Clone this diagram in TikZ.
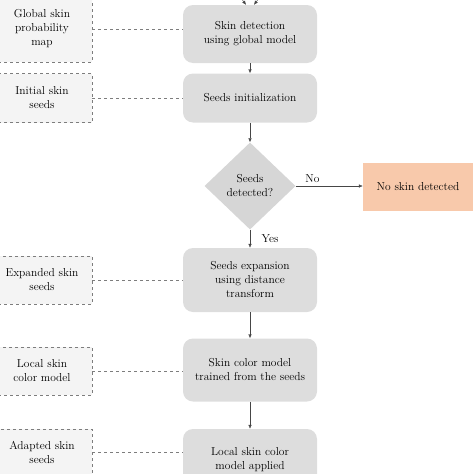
\documentclass[tikz,border=0pt]{standalone}
\usepackage{tikz}
\usetikzlibrary{shapes.geometric,arrows.meta}

\definecolor{boxgray}{RGB}{221,221,221}
\definecolor{diagray}{RGB}{214,214,214}
\definecolor{sidegray}{RGB}{244,244,244}
\definecolor{nofill}{RGB}{248,201,171}
\definecolor{linegray}{RGB}{70,70,70}
\definecolor{dashgray}{RGB}{125,125,125}

\tikzset{
  stepbox/.style={rectangle, rounded corners=10pt, fill=boxgray, align=center,
    minimum width=134pt, inner sep=2pt, font=\fontsize{11.5}{14}\selectfont},
  sidebox/.style={rectangle, draw=dashgray, dashed, fill=sidegray, align=center,
    minimum width=100pt, inner sep=2pt, font=\fontsize{11.5}{14}\selectfont},
  flow/.style={draw=linegray, -{Latex[length=4pt,width=3.5pt]}},
  link/.style={draw=dashgray, dashed}
}

\begin{document}
\begin{tikzpicture}[x=1pt,y=-1pt]
  \useasboundingbox (0,0) rectangle (474,474);
%  \fill[white] (0,0) rectangle (474,474);
  \node[stepbox, minimum height=58pt] (detect) at (250,34) {Skin detection\\using global model};
  \node[stepbox, minimum height=49pt] (init) at (250,98) {Seeds initialization};
  \node[diamond, fill=diagray, minimum width=91pt, minimum height=87pt, inner sep=0pt,
    align=center, font=\fontsize{11.5}{14}\selectfont] (check) at (250,186) {Seeds\\detected?};
  \node[rectangle, fill=nofill, minimum width=110pt, minimum height=48pt,
    font=\fontsize{11.5}{14}\selectfont] (noskin) at (418,187) {No skin detected};
  \node[stepbox, minimum height=64pt] (expand) at (250,280) {Seeds expansion\\using distance\\transform};
  \node[stepbox, minimum height=63pt] (train) at (250,370) {Skin color model\\trained from the seeds};
  \node[stepbox, minimum height=62pt] (apply) at (250,460) {Local skin color\\model applied};

  \node[sidebox, minimum height=66pt] (globmap) at (42,29) {Global skin\\probability\\map};
  \node[sidebox, minimum height=49pt] (initseed) at (42,98) {Initial skin\\seeds};
  \node[sidebox, minimum height=48pt] (expseed) at (42,280) {Expanded skin\\seeds};
  \node[sidebox, minimum height=48pt] (locmodel) at (42,371) {Local skin\\color model};
  \node[sidebox, minimum height=46pt] (adpseed) at (42,452) {Adapted skin\\seeds};

  \coordinate (topl) at (238,-6);
  \coordinate (topr) at (262,-6);
  \draw[flow] (topl) -- ([xshift=-4pt]detect.north);
  \draw[flow] (topr) -- ([xshift=4pt]detect.north);

  \draw[flow] (detect) -- (init);
  \draw[flow] (init) -- (check);
  \draw[flow] (check.east) -- node[above, pos=0.25, font=\fontsize{11.5}{14}\selectfont]{No} (check.east -| noskin.west);
  \draw[flow] (check) -- node[right, xshift=8pt, font=\fontsize{11.5}{14}\selectfont]{Yes} (expand);
  \draw[flow] (expand) -- (train);
  \draw[flow] (train) -- (apply);

  \draw[link] (globmap.east) -- (globmap.east -| detect.west);
  \draw[link] (initseed.east) -- (initseed.east -| init.west);
  \draw[link] (expseed.east) -- (expseed.east -| expand.west);
  \draw[link] (locmodel.east) -- (locmodel.east -| train.west);
  \draw[link] (adpseed.east) -- (adpseed.east -| apply.west);
\end{tikzpicture}
\end{document}
